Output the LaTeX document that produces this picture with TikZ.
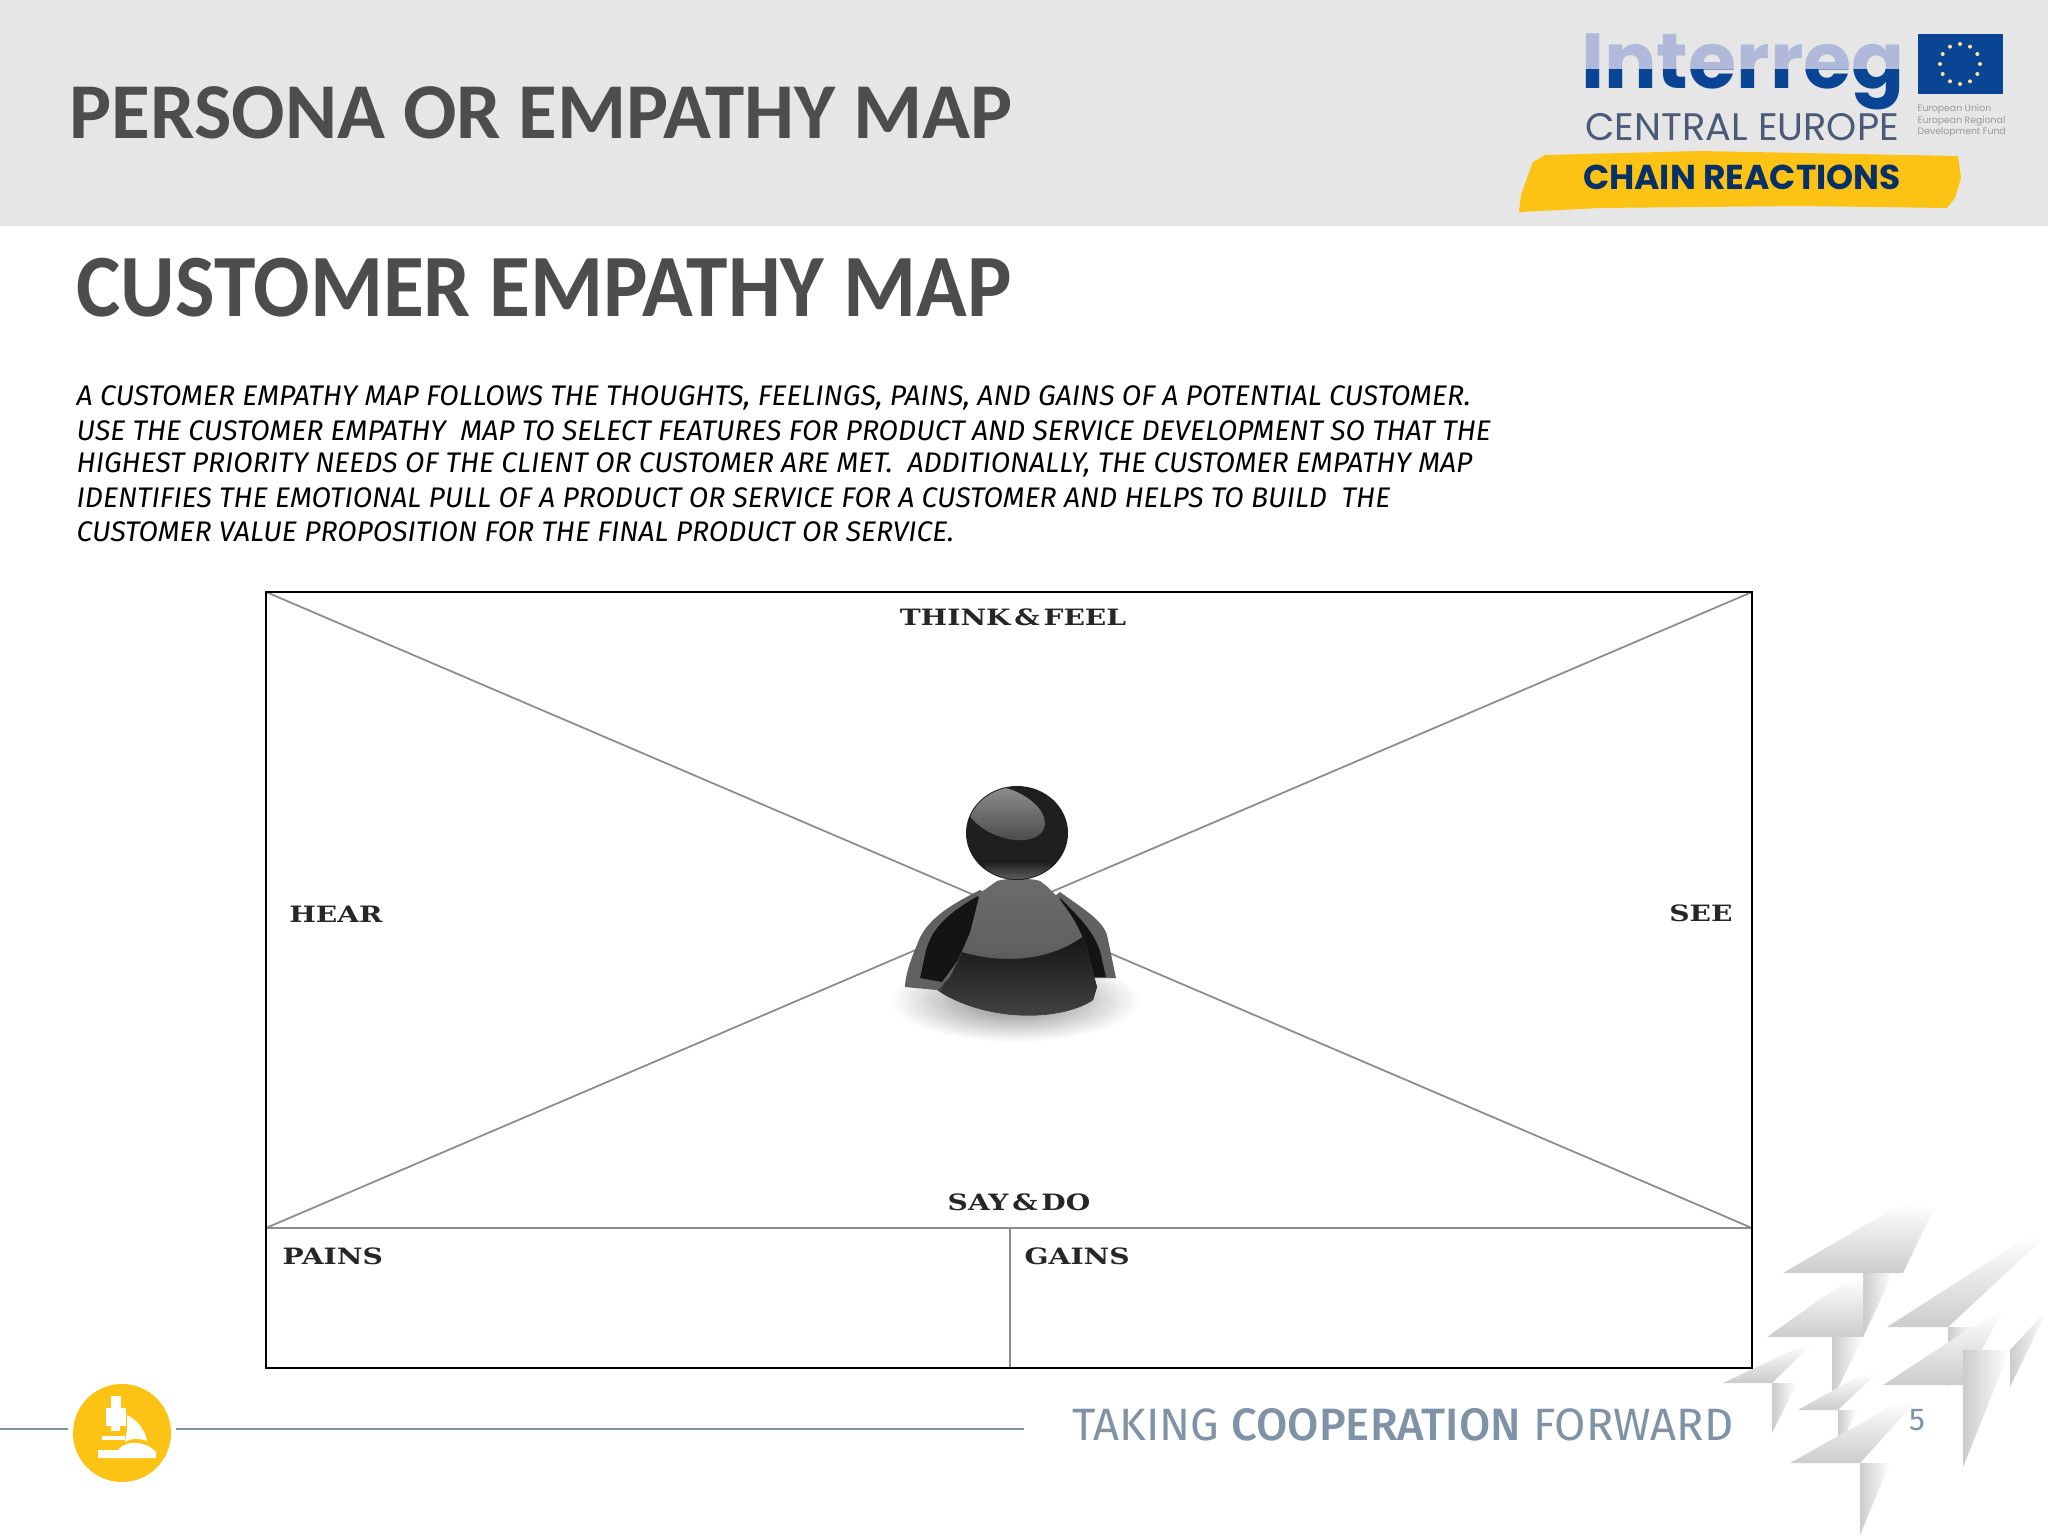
\documentclass[tikz,border=0pt]{standalone}
\usepackage{fontspec}
\usepackage{tikz}
\usetikzlibrary{positioning}
\setmainfont{Carlito}
\newfontfamily\maptitlefont[FakeStretch=0.94]{Carlito}
\newfontfamily\bodyfont{Fira Sans}
\newfontfamily\tagfont[BoldFont={Fira Sans Medium}]{Fira Sans}
\newfontfamily\logofont{Poppins}
\newfontfamily\labelfont[FakeStretch=1.25]{DejaVu Serif}
\definecolor{bandgray}{HTML}{E6E6E6}
\definecolor{titlegray}{HTML}{4D4D4D}
\definecolor{footblue}{HTML}{7F92A6}
\definecolor{sunyellow}{HTML}{FDC314}
\definecolor{logoblue}{HTML}{0A4595}
\definecolor{logopale}{HTML}{B1B9DA}
\definecolor{logoslate}{HTML}{4A5A78}
\tikzset{
    titletext/.style={anchor=west,text=titlegray,inner sep=0pt,font=\bfseries\fontsize{22.5}{22.5}\selectfont},
    bodytext/.style={anchor=west,text=black,inner sep=0pt,font=\bodyfont\itshape\fontsize{8.05}{8.05}\selectfont},
    maplabel/.style={inner sep=0pt,text=black!85,font=\labelfont\bfseries\fontsize{6.4}{6.4}\selectfont},
    mapline/.style={draw=black!45,line width=0.5pt},
    boltup/.style={bottom color=black!20,middle color=black!5,top color=white},
    boltside/.style={left color=black!20,middle color=black!5,right color=white},
    interregtext/.style={inner sep=0pt,anchor=base,font=\logofont\bfseries\fontsize{22.2}{22.2}\selectfont},
}
\begin{document}
\begin{tikzpicture}[x=0.01cm,y=-0.01cm]
\useasboundingbox (0,0) rectangle (2048,1536);
\fill[white] (0,0) rectangle (2048,1536);
\fill[bandgray] (0,0) rectangle (2048,226);
% titles
\node[titletext] (slidetitle) at (69,113) {PERSONA OR EMPATHY MAP};
\node[titletext,font=\maptitlefont\bfseries\fontsize{25.3}{25.3}\selectfont] (maptitle) at (76,288) {CUSTOMER EMPATHY MAP};
\node[bodytext] (lineone) at (76,398) {A CUSTOMER EMPATHY MAP FOLLOWS THE THOUGHTS, FEELINGS, PAINS, AND GAINS OF A POTENTIAL CUSTOMER.};
\node[bodytext] (linetwo) at (76,431) {USE THE CUSTOMER EMPATHY\ \ MAP TO SELECT FEATURES FOR PRODUCT AND SERVICE DEVELOPMENT SO THAT THE};
\node[bodytext] (linethree) at (76,465) {HIGHEST PRIORITY NEEDS OF THE CLIENT OR CUSTOMER ARE MET.\ \ ADDITIONALLY, THE CUSTOMER EMPATHY MAP};
\node[bodytext] (linefour) at (76,498) {IDENTIFIES THE EMOTIONAL PULL OF A PRODUCT OR SERVICE FOR A CUSTOMER AND HELPS TO BUILD\ \ THE};
\node[bodytext] (linefive) at (76,532) {CUSTOMER VALUE PROPOSITION FOR THE FINAL PRODUCT OR SERVICE.};
% logo
\fill[sunyellow] (1533,162) -- (1545,155) -- (1700,151) -- (1958,156) -- (1961,178) -- (1955,198) -- (1947,208) -- (1800,206) -- (1600,208) -- (1519,212) -- (1521,195) -- (1527,178) -- cycle;
\begin{scope}
\clip (1570,20) rectangle (1910,69);
\node[interregtext,text=logopale] (interregtop) at (1743,88) {Interreg};
\end{scope}
\begin{scope}
\clip (1570,69) rectangle (1910,115);
\node[interregtext,text=logoblue] (interreg) at (1743,88) {Interreg};
\end{scope}
\node[inner sep=0pt,text=logoslate,font=\logofont\fontsize{10.9}{10.9}\selectfont] (centraleurope) at (1742,127) {CENTRAL EUROPE};
\node[inner sep=0pt,text=logoblue!70!black,font=\logofont\bfseries\fontsize{9.8}{9.8}\selectfont] (chainreactions) at (1742,177) {CHAIN REACTIONS};
\fill[logoblue] (1918,34) rectangle (2003,94);
\foreach \a in {0,30,...,330}
    \fill[sunyellow!45!white] (1960,64) ++(\a:20) circle (2);
\node[inner sep=0pt,align=left,anchor=north west,text=black!40,font=\logofont\fontsize{2.65}{3.2}\selectfont] (eutext) at (1917,104) {European Union\\European Regional\\Development Fund};
% bolts behind the map
\shade[boltup] (1783,1273) -- (1903,1273) -- (1933,1210) -- (1903,1203) -- cycle;
\shade[boltside] (1863,1273) -- (1893,1273) -- (1863,1337) -- cycle;
\shade[boltup] (1767,1337) -- (1863,1337) -- (1863,1277) -- (1833,1290) -- cycle;
\shade[boltside] (1832,1337) -- (1863,1337) -- (1832,1400) -- cycle;
\shade[boltup] (1723,1383) -- (1772,1383) -- (1813,1343) -- (1793,1350) -- cycle;
\shade[boltside] (1772,1383) -- (1797,1383) -- (1772,1433) -- cycle;
\shade[boltup] (1887,1327) -- (1948,1327) -- (2047,1235) -- (2023,1240) -- cycle;
\shade[boltside] (1948,1327) -- (1975,1327) -- (1948,1387) -- cycle;
\shade[boltup] (1883,1385) -- (1963,1385) -- (2003,1310) -- (1967,1330) -- cycle;
\shade[boltside] (2010,1350) -- (2047,1310) -- (2010,1387) -- cycle;
\shade[boltside] (1963,1350) -- (2010,1350) -- (1963,1467) -- cycle;
\shade[boltup] (1798,1410) -- (1838,1410) -- (1877,1373) -- (1857,1377) -- cycle;
\shade[boltside] (1838,1410) -- (1857,1410) -- (1838,1450) -- cycle;
\shade[boltup] (1790,1463) -- (1860,1463) -- (1917,1400) -- (1890,1407) -- cycle;
\shade[boltside] (1860,1463) -- (1890,1463) -- (1860,1535) -- cycle;
% the map
\coordinate (maptl) at (266,592);
\coordinate (maptr) at (1752,592);
\coordinate (mapbl) at (266,1368);
\coordinate (mapbr) at (1752,1368);
\coordinate (midl) at (266,1228);
\coordinate (midr) at (1752,1228);
\coordinate (midc) at (1010,1228);
\coordinate (lowc) at (1010,1368);
\draw[mapline] (maptl)--(midr);
\draw[mapline] (maptr)--(midl);
\draw[mapline] (midl)--(midr);
\draw[mapline] (midc)--(lowc);
\draw[black,line width=0.6pt] (maptl)--(maptr)--(mapbr)--(mapbl)--cycle;
\node[maplabel] (thinkfeel) at (1013,617) {THINK\,\&\,FEEL};
\node[maplabel] (hear) at (336,914) {HEAR};
\node[maplabel] (see) at (1701,913) {SEE};
\node[maplabel] (saydo) at (1019,1202) {SAY\,\&\,DO};
\node[maplabel,anchor=west] (pains) at (282,1256) {PAINS};
\node[maplabel,anchor=west] (gains) at (1024,1256) {GAINS};
% the person
\shade[inner color=black!50,outer color=white] (1015,1000) ellipse (125 and 42);
\fill[black!62] (980,890) .. controls (950,905) and (925,920) .. (917,945) .. controls (908,965) and (905,980) .. (905,987) -- (937,990) -- (950,977) -- (1000,900) -- cycle;
\fill[black!92] (978,896) .. controls (950,912) and (930,928) .. (925,955) -- (920,978) -- (942,982) -- (958,960) -- (982,905) -- cycle;
\fill[black!62] (1060,892) .. controls (1085,910) and (1102,920) .. (1107,935) -- (1116,978) -- (1090,978) -- (1050,900) -- cycle;
\fill[black!92] (1060,898) .. controls (1080,918) and (1098,935) .. (1102,960) -- (1106,977) -- (1090,977) -- (1060,905) -- cycle;
\shade[top color=black!58,bottom color=black!85,middle color=black!62] (997,881) .. controls (1005,878) and (1032,878) .. (1040,881) .. controls (1060,895) and (1080,925) .. (1087,950) -- (1097,987) -- (1093,1000) .. controls (1060,1022) and (985,1022) .. (937,990) -- (950,977) -- (960,957) -- (970,933) -- (980,893) -- cycle;
\begin{scope}
\clip (997,881) .. controls (1005,878) and (1032,878) .. (1040,881) .. controls (1060,895) and (1080,925) .. (1087,950) -- (1097,987) -- (1093,1000) .. controls (1060,1022) and (985,1022) .. (937,990) -- (950,977) -- (960,957) -- (970,933) -- (980,893) -- cycle;
\shade[top color=black!92,bottom color=black!72] (955,950) .. controls (1000,965) and (1050,962) .. (1085,935) -- (1110,1025) -- (930,1025) -- cycle;
\end{scope}
\fill[black!88] (1017,833) ellipse (51 and 47);
\begin{scope}
\clip (1017,833) ellipse (50 and 46);
\shade[top color=black!42,bottom color=black!72,rotate around={-22:(1005,813)}] (1005,813) ellipse (42 and 24);
\shade[top color=black!90,bottom color=black!60] (985,860) rectangle (1050,882);
\end{scope}
% footer
\coordinate (ruleleft) at (0,1429);
\coordinate (ruleone) at (68,1429);
\coordinate (ruletwo) at (176,1429);
\coordinate (ruleend) at (1024,1429);
\draw[footblue,line width=0.6pt] (ruleleft)--(ruleone);
\draw[footblue,line width=0.6pt] (ruletwo)--(ruleend);
\fill[sunyellow] (122,1433) circle (49);
% microscope
\fill[white] (111,1396) rectangle (121,1408);
\fill[white] (106,1408) rectangle (126,1426);
\fill[white] (111,1426) rectangle (120,1431);
\fill[white] (102,1436) rectangle (125,1440);
\fill[white] (127,1415) .. controls (138,1420) and (146,1432) .. (147,1441) .. controls (140,1438) and (130,1438) .. (125,1442) -- (127,1430) -- cycle;
\fill[white] (98,1458) -- (98,1450) -- (118,1450) .. controls (125,1440) and (145,1440) .. (156,1452) -- (156,1458) -- cycle;
\node[inner sep=0pt,anchor=west,text=footblue,font=\tagfont\fontsize{12.9}{12.9}\selectfont] (tagline) at (1072,1425) {TAKING \textbf{COOPERATION} FORWARD};
\node[inner sep=0pt,text=footblue,font=\bodyfont\fontsize{9}{9}\selectfont] (pagenumber) at (1917,1420) {5};
\end{tikzpicture}
\end{document}
